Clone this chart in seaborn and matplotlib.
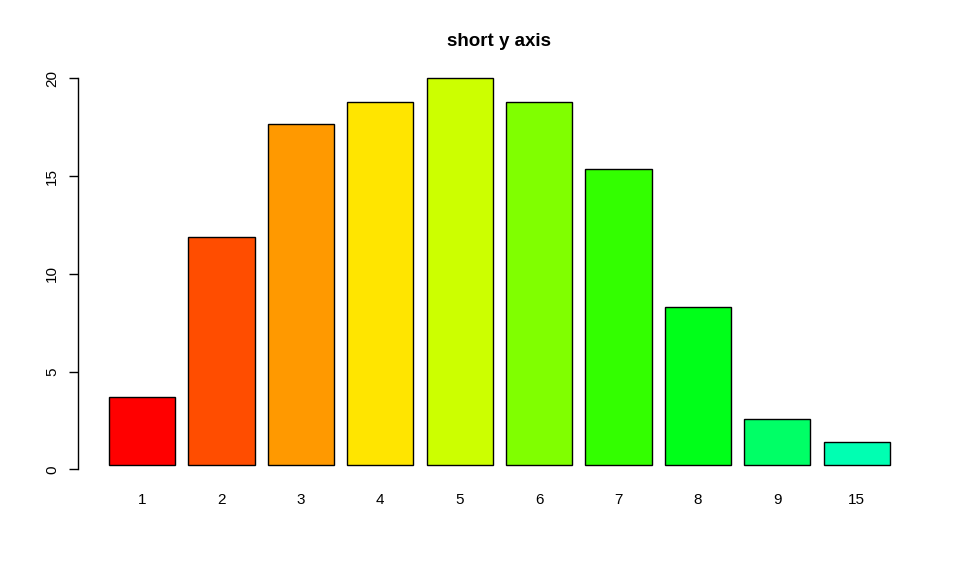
import matplotlib
matplotlib.use("Agg")
import matplotlib.pyplot as plt
import seaborn as sns
import pandas as pd

categories = ["1", "2", "3", "4", "5", "6", "7", "8", "9", "15"]
values = [3.68, 11.87, 17.65, 18.80, 20.0, 18.80, 15.35, 8.32, 2.56, 1.38]
base = 0.22
colors = ["#FF0000", "#FF4D00", "#FF9900", "#FFE500", "#CCFF00",
          "#80FF00", "#33FF00", "#00FF19", "#00FF66", "#00FFB2"]
yticks = [0, 5, 10, 15, 20]

sns.set_theme(style="white")
plt.rcParams['font.family'] = ['Liberation Sans', 'DejaVu Sans']
plt.rcParams['text.color'] = 'black'
plt.rcParams['axes.labelcolor'] = 'black'
plt.rcParams['xtick.color'] = 'black'
plt.rcParams['ytick.color'] = 'black'

df = pd.DataFrame({"cat": categories, "height": [v - base for v in values]})

fig = plt.figure(figsize=(9.61, 5.67), dpi=100)
ax = fig.add_axes([77.8 / 961, (567 - 485) / 567, (921 - 77.8) / 961, (485 - 62.7) / 567])

sns.barplot(data=df, x="cat", y="height", hue="cat", palette=colors, legend=False,
            width=0.833, edgecolor="black", linewidth=1.0, bottom=base, ax=ax,
            saturation=1)

ax.set_xlim(-0.81, 9.81)
ax.set_ylim(-0.8, 20.8)
for s in ["top", "right", "bottom"]:
    ax.spines[s].set_visible(False)
ax.spines["left"].set_bounds(0, 20)
ax.spines["left"].set_color("black")
ax.spines["left"].set_linewidth(1.0)
ax.set_yticks(yticks)
ax.set_yticklabels([str(t) for t in yticks], rotation=90, va="center", fontsize=11)
ax.tick_params(axis="y", length=6.5, width=1.0, color="black", pad=7, left=True, labelcolor="black")
ax.tick_params(axis="x", length=0, pad=6, labelsize=11, labelcolor="black")
ax.set_xlabel("")
ax.set_ylabel("")
ax.set_title("short y axis", fontsize=13.5, fontweight="bold", pad=12, color="black")
ax.grid(False)

fig.savefig("out.png", dpi=100)
